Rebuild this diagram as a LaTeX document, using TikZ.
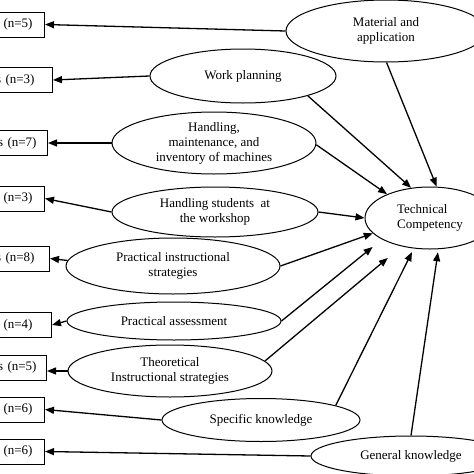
\documentclass[tikz,border=0pt]{standalone}
\usepackage{fontspec}
\setmainfont{Liberation Serif}
\usetikzlibrary{arrows.meta,shapes.geometric}
\tikzset{
    factor node/.style = {
        draw,
        ellipse,
        line width=1pt,
        inner sep=0pt,
        align=center,
        font=\fontsize{13}{15}\selectfont,
        },
    count box/.style = {
        draw,
        line width=1pt,
        anchor=east,
        minimum height=25pt,
        text width=80pt,
        align=right,
        inner xsep=12pt,
        font=\fontsize{13}{15}\selectfont,
        },
    factor edge/.style = {
        line width=1.3pt,
        -{Triangle[length=9pt, width=7pt]},
        },
}

\begin{document}
\begin{tikzpicture}[x=1pt, y=-1pt]
            \useasboundingbox (0,0) rectangle (474,474);
            \clip (0,0) rectangle (474,474);

            % factors
            \node [factor node, minimum width=200pt, minimum height=62pt] (mat) at (386,31) {Material and\\application};
            \node [factor node, minimum width=186pt, minimum height=54pt] (work) at (243,76) {Work planning};
            \node [factor node, minimum width=204pt, minimum height=62pt] (mach) at (214,143) {Handling,\\maintenance, and\\inventory of machines};
            \node [factor node, minimum width=206pt, minimum height=50pt] (stu) at (215,212) {Handling students~ at\\the workshop};
            \node [factor node, minimum width=214pt, minimum height=56pt] (pis) at (173,266) {Practical instructional\\strategies};
            \node [factor node, minimum width=214pt, minimum height=38pt] (pa) at (174,321) {Practical assessment};
            \node [factor node, minimum width=204pt, minimum height=52pt] (theo) at (170,371) {Theoretical\\Instructional strategies};
            \node [factor node, minimum width=198pt, minimum height=43pt] (spk) at (261,420) {Specific knowledge};
            \node [factor node, minimum width=200pt, minimum height=40pt] (gen) at (411,456) {General knowledge};
            \node [factor node, minimum width=130pt, minimum height=62pt, align=left] (tc) at (430,218) {Technical\\Competency};

            % counts
            \node [count box] (c1) at (45,24.5) {(n=5)};
            \node [count box, inner xsep=18pt] (c2) at (53,80) {s (n=3)};
            \node [count box, inner xsep=11pt] (c3) at (48,143) {s (n=7)};
            \node [count box] (c4) at (45,198.5) {(n=3)};
            \node [count box, inner xsep=15pt] (c5) at (50,258.5) {s (n=8)};
            \node [count box, inner xsep=19pt] (c6) at (52,325) {(n=4)};
            \node [count box, inner xsep=10pt] (c7) at (47,367.5) {s (n=5)};
            \node [count box] (c8) at (45,409.5) {(n=6)};
            \node [count box] (c9) at (45,451.5) {(n=6)};

            \draw [factor edge] (mat.west) -- (c1.east);
            \draw [factor edge] (work.west) -- (c2.east);
            \draw [factor edge] (mach.west) -- (c3.east);
            \draw [factor edge] (stu.west) -- (c4.east);
            \draw [factor edge] (pis.177) -- (c5.east);
            \draw [factor edge] (pa.west) -- (c6.east);
            \draw [factor edge] (theo.west) -- (theo.west -| c7.east);
            \draw [factor edge] (spk.west) -- (c8.east);
            \draw [factor edge] (gen.west) -- (c9.east);

            \draw [factor edge] (mat.-89) -- (tc.78);
            \draw [factor edge] (work.-17) -- (tc.122);
            \draw [factor edge] (mach.-1) -- (tc.151);
            \draw [factor edge] (stu.east) -- (tc.west);
            \draw [factor edge] (pis.east) -- (tc.195);
            \draw [factor edge, shorten >=12pt] (pa.east) -- (tc.204);
            \draw [factor edge, shorten >=18pt] (theo.6) -- (tc.225);
            \draw [factor edge, shorten >=4pt] (spk.11) -- (tc.242);
            \draw [factor edge, shorten >=3pt] (gen.north) -- (tc.285);
        \end{tikzpicture}
\end{document}
